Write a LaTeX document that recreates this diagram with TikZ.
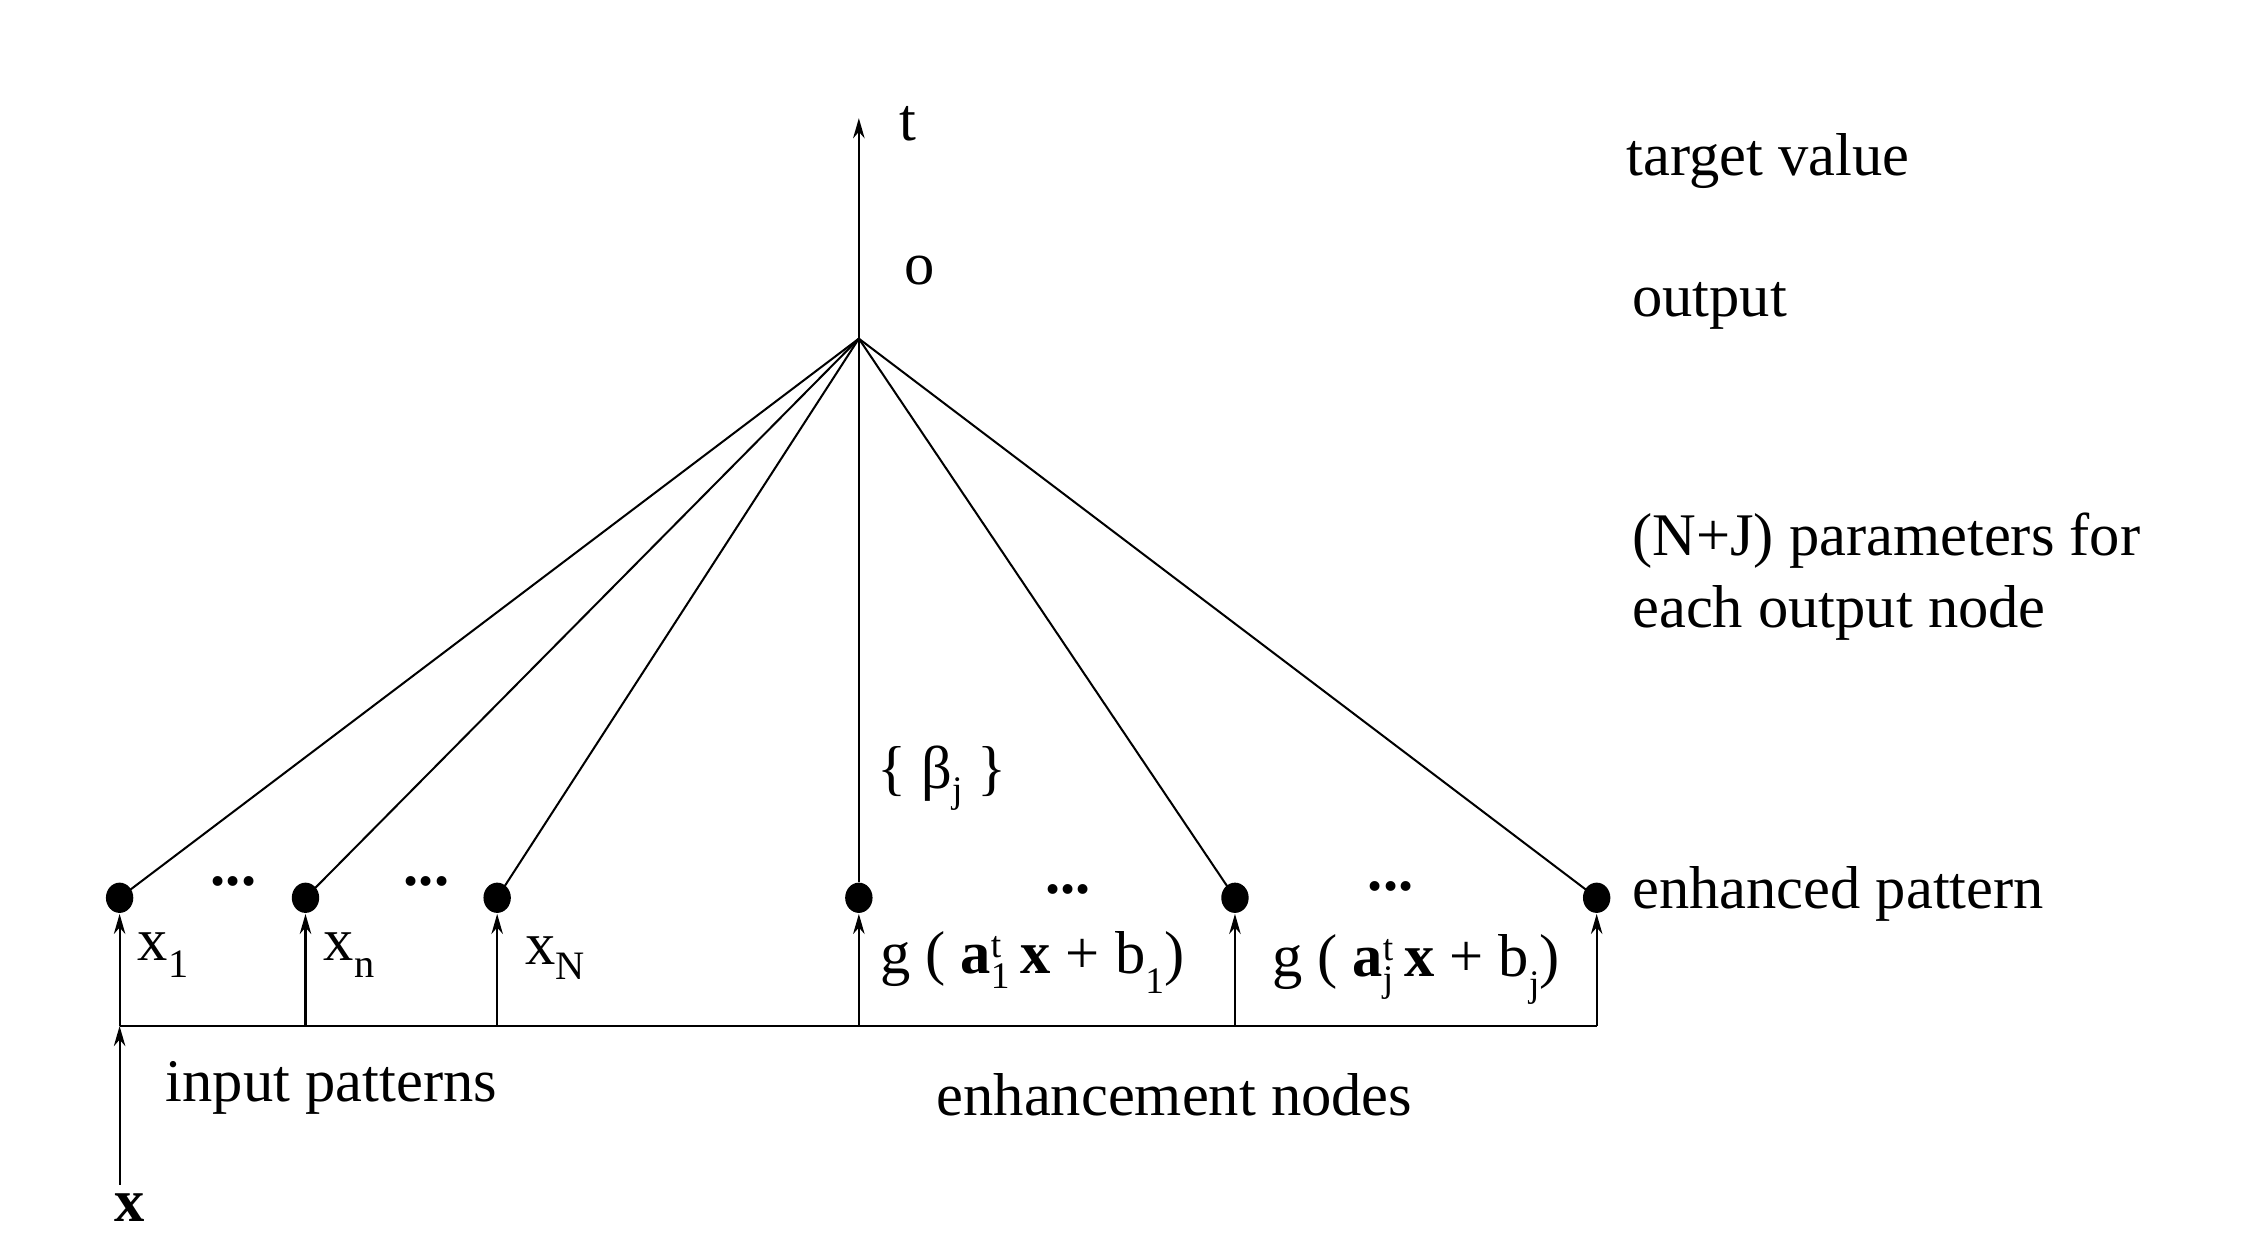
\documentclass[tikz,border=0pt]{standalone}
\usepackage{fontspec}
\setmainfont{Liberation Serif}
\usetikzlibrary{arrows.meta,shapes.geometric}
\newcommand{\supsub}[2]{\ensuremath{\mathstrut^{\raisebox{2pt}{\fontsize{26}{28}\selectfont #1}}_{\raisebox{-4pt}{\fontsize{26}{28}\selectfont #2}}}}
\begin{document}
\begin{tikzpicture}[x=1pt,y=-1pt,line width=1.4pt,
  dot/.style={fill=black,ellipse,inner sep=0pt,minimum width=19pt,minimum height=21pt},
  lab/.style={font=\fontsize{42}{50}\selectfont,inner sep=0pt},
  sb/.style={font=\fontsize{28}{30}\selectfont,inner sep=0pt},
  ar/.style={-{Stealth[length=14pt,width=8pt]}}]
\useasboundingbox (0,0) rectangle (1560,868);
\coordinate (O) at (596,235);
\coordinate (T) at (596,82);
\foreach \n/\x in {d1/83,d2/212,d3/345,d4/596,d5/857,d6/1108}{
  \node[dot] (\n) at (\x,623) {};
  \coordinate (b\n) at (\x,712);
}
\coordinate (xin) at (83,822);
\draw (bd1) -- (bd6);
\foreach \n in {d1,d2,d3,d4,d5,d6}{ \draw[ar] (b\n) -- (\n.south); }
\draw[ar] (xin) -- (bd1);
\draw[ar] (d4.north) -- (T);
\foreach \n in {d1,d2,d3,d5,d6}{ \draw (O) -- (\n.center); }
\node[lab] (t) at (630,86) {t};
\node[lab] (o) at (638,188) {o};
\node[lab,anchor=west] (tv) at (1128,112) {target value};
\node[lab,anchor=west] (out) at (1132,212) {output};
\node[lab,anchor=west,align=left] (par) at (1132,400) {(N+J) parameters for\\each output node};
\node[lab,anchor=west] (beta) at (608,540) {\{ β\raisebox{-10pt}{\fontsize{26}{28}\selectfont j} \}};
\node[lab,anchor=west] (ep) at (1132,620) {enhanced pattern};
\foreach \n/\x/\y in {e1/162/612,e2/296/612,e3/741/617,e4/965/615}{ \node[lab,font=\fontsize{42}{50}\selectfont\bfseries] (\n) at (\x,\y) {...}; }
\node[lab,anchor=west] (x1) at (95,663) {x\raisebox{-12pt}{\fontsize{28}{30}\selectfont 1}};
\node[lab,anchor=west] (xn) at (224,663) {x\raisebox{-12pt}{\fontsize{28}{30}\selectfont n}};
\node[lab,anchor=west] (xN) at (364,665) {x\raisebox{-10pt}{\fontsize{28}{30}\selectfont N}};
\node[lab,anchor=west] (g1) at (610,668) {g ( \textbf{a}\supsub{t}{1}\,\textbf{x} + b\raisebox{-14pt}{\fontsize{26}{28}\selectfont 1})};
\node[lab,anchor=west] (gj) at (882,673) {g ( \textbf{a}\supsub{t}{j}\,\textbf{x} + b\raisebox{-14pt}{\fontsize{26}{28}\selectfont j})};
\node[lab] (ip) at (230,755) {input patterns};
\node[lab] (en) at (815,760) {enhancement nodes};
\node[lab] (x) at (90,838) {\textbf{x}};
\end{tikzpicture}
\end{document}
